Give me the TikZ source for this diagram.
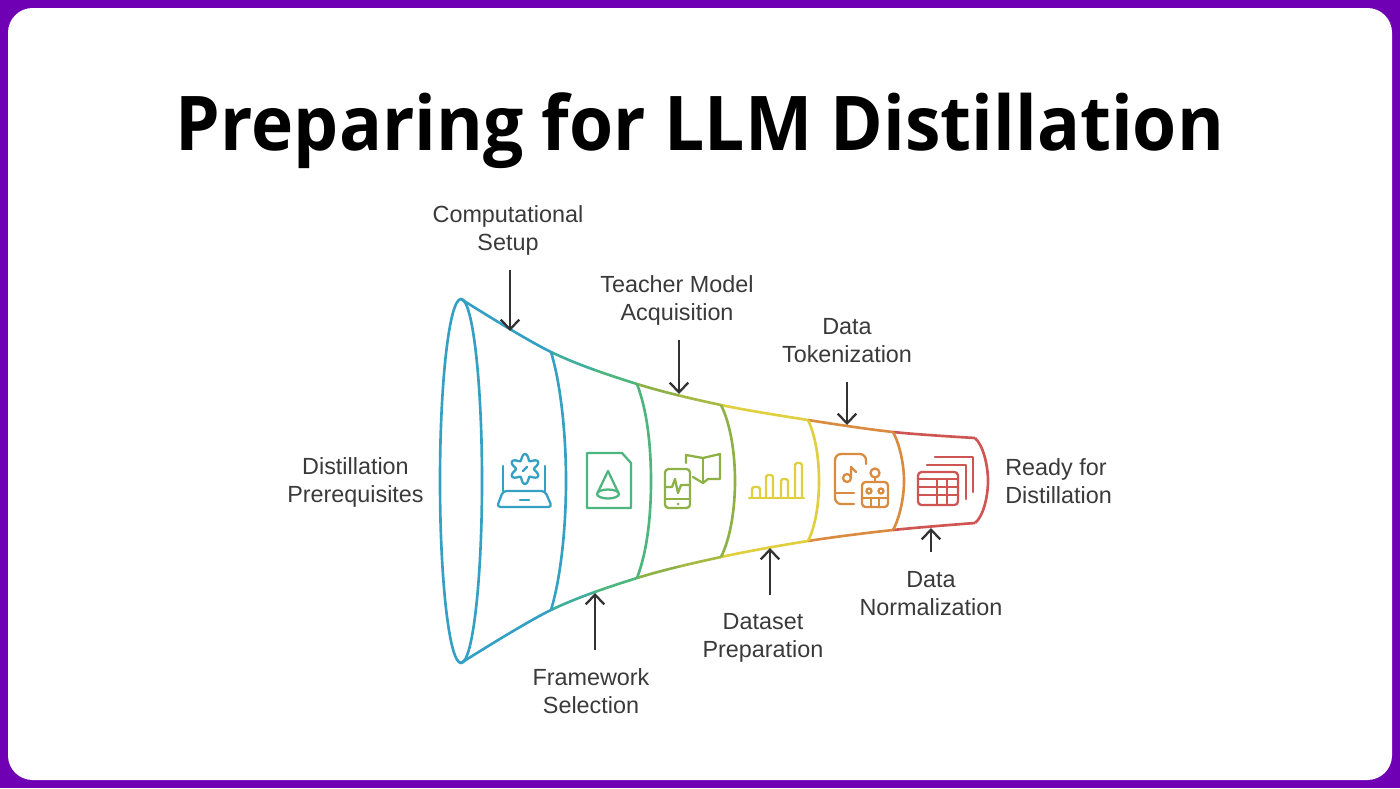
\documentclass[tikz,border=0pt]{standalone}
\usepackage{fontspec}
\setmainfont{Open Sans}
\newfontfamily\labelfont{Liberation Sans}
\usetikzlibrary{arrows.meta}
\definecolor{framePurple}{HTML}{7000B4}
\definecolor{labelGrey}{HTML}{3A3A3A}
\definecolor{arrowGrey}{HTML}{333333}
\definecolor{stepBlue}{HTML}{34A0C4}
\definecolor{stepTeal}{HTML}{3FAE9B}
\definecolor{stepGreen}{HTML}{4DB67E}
\definecolor{stepOlive}{HTML}{8DB145}
\definecolor{stepYellow}{HTML}{E0CF3E}
\definecolor{stepOrange}{HTML}{D98C40}
\definecolor{stepRed}{HTML}{CF5552}
\tikzset{
    labelText/.style={font=\labelfont\fontsize{13.3pt}{15.9pt}\selectfont, text=labelGrey, align=center, inner xsep=0pt, inner ysep=8.5pt},
    arrowLine/.style={draw=arrowGrey, line width=1.3pt, -{Straight Barb[length=5.5pt,width=10.5pt]}},
    funnelLine/.style={line width=1.5pt},
    iconLine/.style={line width=1.3pt, line join=round, line cap=round}
}
\begin{document}
\begin{tikzpicture}[x=0.02cm, y=-0.02cm]
    % Draw the frame
    \fill[framePurple] (0, 0) rectangle (1400, 788);
    \fill[white, rounded corners=14pt] (8, 8) rectangle (1392, 780);
    % Title above
    \node (title) at (700, 131) {\scalebox{0.944}[1]{\fontsize{43pt}{48pt}\selectfont\bfseries Preparing for LLM Distillation}};
    % Draw the long edges, one colour per strip
    \foreach \xa/\xb/\stripcolor in {455/551/stepBlue, 551/594/stepTeal, 594/637/stepGreen, 637/679/stepOlive, 679/721/stepOlive!70!stepYellow, 721/808/stepYellow, 808/893/stepOrange, 893/980/stepRed} {
        \begin{scope}
            \clip (\xa, 280) rectangle (\xb, 680);
            \draw[funnelLine, \stripcolor] plot[smooth, tension=0.55] coordinates {(461, 299) (551, 352) (637, 384) (721, 405) (808, 420) (893, 432) (975, 438)};
            \draw[funnelLine, \stripcolor] plot[smooth, tension=0.55] coordinates {(461, 663) (551, 610) (637, 578) (721, 557) (808, 541) (893, 530) (975, 523)};
        \end{scope}
    }
    % Draw the mouth and the seams
    \draw[funnelLine, stepBlue] (461, 481) ellipse (21 and 182);
    \draw[funnelLine, stepBlue] (551, 352) .. controls (561, 385) and (566, 435) .. (566, 481) .. controls (566, 527) and (561, 577) .. (551, 610);
    \draw[funnelLine, stepGreen] (637, 384) .. controls (647, 410) and (651, 445) .. (651, 481) .. controls (651, 517) and (647, 552) .. (637, 578);
    \draw[funnelLine, stepOlive] (721, 405) .. controls (731, 425) and (735, 455) .. (735, 481) .. controls (735, 507) and (731, 537) .. (721, 557);
    \draw[funnelLine, stepYellow] (808, 420) .. controls (816, 437) and (819, 460) .. (819, 481) .. controls (819, 502) and (816, 525) .. (808, 541);
    \draw[funnelLine, stepOrange] (893, 432) .. controls (900, 445) and (904, 465) .. (904, 481) .. controls (904, 497) and (900, 517) .. (893, 530);
    \draw[funnelLine, stepRed] (975, 438) .. controls (983, 445) and (988, 465) .. (988, 481) .. controls (988, 497) and (983, 517) .. (975, 523);
    % Laptop icon
    \draw[iconLine, stepBlue] plot[domain=0:360, samples=73, smooth, variable=\t] ({525 + (12 + 3*cos(6*\t))*sin(\t)}, {469 - (12 + 3*cos(6*\t))*cos(\t)});
    \draw[iconLine, stepBlue] (523, 471) -- (527, 467);
    \draw[iconLine, stepBlue] (503, 466) -- (503, 491);
    \draw[iconLine, stepBlue] (545, 466) -- (545, 491);
    \draw[iconLine, stepBlue, rounded corners=2pt] (503, 491) -- (545, 491) -- (552, 507) -- (497, 507) -- cycle;
    \draw[iconLine, stepBlue] (520, 500) -- (529, 500);
    % Document icon
    \draw[iconLine, stepGreen] (587, 453) -- (622, 453) -- (631, 463) -- (631, 508) -- (587, 508) -- cycle;
    \draw[iconLine, stepGreen] (608, 494) ellipse (11 and 4.5);
    \draw[iconLine, stepGreen] (598, 492) -- (608, 471) -- (618, 492);
    % Phone and book icon
    \draw[iconLine, stepOlive, rounded corners=2pt] (665, 469) rectangle (690, 508);
    \draw[iconLine, stepOlive] (665, 499) -- (690, 499);
    \draw[iconLine, stepOlive] (665, 487) -- (672, 487) -- (675, 479) -- (678, 493) -- (681, 485) -- (690, 485);
    \fill[stepOlive] (678, 504) circle (1.5);
    \draw[iconLine, stepOlive] (686, 463) -- (686, 455) -- (703, 458) -- (720, 454) -- (720, 479) -- (708, 479) -- (703, 483) -- (693, 477);
    \draw[iconLine, stepOlive] (703, 458) -- (703, 481);
    % Bars icon
    \draw[iconLine, stepYellow] (749, 498) -- (804, 498);
    \foreach \xa/\xb/\ytop in {752/760/487, 766/773/475, 781/788/479, 795/802/463} {
        \draw[iconLine, stepYellow, rounded corners=1pt] (\xa, 498) -- (\xa, \ytop) -- (\xb, \ytop) -- (\xb, 498);
    }
    % Music and robot icon
    \draw[iconLine, stepOrange, rounded corners=3.5pt] (866, 464) -- (866, 454) -- (835, 454) -- (835, 504) -- (854, 504);
    \draw[iconLine, stepOrange] (835, 493) -- (854, 493);
    \draw[iconLine, stepOrange] (847, 478) circle (4);
    \draw[iconLine, stepOrange] (851, 478) -- (851, 467) -- (856, 472);
    \draw[iconLine, stepOrange] (875, 473) circle (4.5);
    \draw[iconLine, stepOrange] (875, 477.5) -- (875, 482);
    \draw[iconLine, stepOrange, rounded corners=2pt] (862, 482) rectangle (888, 507);
    \draw[iconLine, stepOrange] (869, 491) circle (2.5);
    \draw[iconLine, stepOrange] (881, 491) circle (2.5);
    \draw[iconLine, stepOrange] (862, 498) -- (888, 498);
    \draw[iconLine, stepOrange] (871, 498) -- (871, 507);
    \draw[iconLine, stepOrange] (879, 498) -- (879, 507);
    % Table icon
    \draw[iconLine, stepRed, rounded corners=2pt] (918, 472) rectangle (958, 505);
    \draw[iconLine, stepRed] (918, 479) -- (958, 479);
    \draw[iconLine, stepRed] (918, 487) -- (958, 487);
    \draw[iconLine, stepRed] (918, 495) -- (958, 495);
    \draw[iconLine, stepRed] (937, 479) -- (937, 505);
    \draw[iconLine, stepRed] (947, 479) -- (947, 505);
    \draw[iconLine, stepRed] (927, 465) -- (966, 465) -- (966, 499);
    \draw[iconLine, stepRed] (935, 457) -- (973, 457) -- (973, 492);
    % Labels
    \node[labelText, anchor=east] (prereq) at (424, 482) {Distillation\\Prerequisites};
    \node[labelText, anchor=west, align=left] (ready) at (1005, 481) {Ready for\\Distillation};
    \node[labelText] (compute) at (508, 230) {Computational\\Setup};
    \node[labelText] (teacher) at (677, 300) {Teacher Model\\Acquisition};
    \node[labelText, inner ysep=10.3pt] (tokens) at (847, 341) {Data\\Tokenization};
    \node[labelText, inner ysep=10.3pt] (framework) at (591, 691) {Framework\\Selection};
    \node[labelText, inner ysep=10.3pt] (dataset) at (763, 638) {Dataset\\Preparation};
    \node[labelText, inner ysep=11.4pt] (normal) at (931, 594) {Data\\Normalization};
    % Arrow tips on the funnel
    \coordinate (computeTip) at (510, 331);
    \coordinate (teacherTip) at (679, 394);
    \coordinate (tokensTip) at (847, 425);
    \coordinate (frameworkTip) at (595, 593);
    \coordinate (datasetTip) at (770, 548);
    \coordinate (normalTip) at (931, 528);
    % Draw the arrows
    \draw[arrowLine] (compute.south -| computeTip) -- (computeTip);
    \draw[arrowLine] (teacher.south -| teacherTip) -- (teacherTip);
    \draw[arrowLine] (tokens.south -| tokensTip) -- (tokensTip);
    \draw[arrowLine] (framework.north -| frameworkTip) -- (frameworkTip);
    \draw[arrowLine] (dataset.north -| datasetTip) -- (datasetTip);
    \draw[arrowLine] (normal.north -| normalTip) -- (normalTip);
\end{tikzpicture}
\end{document}
